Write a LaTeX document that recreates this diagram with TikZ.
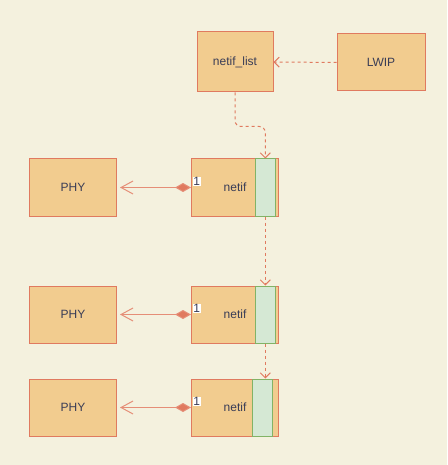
\documentclass[tikz,border=0pt]{standalone}
\usepackage{fontspec}
\setmainfont{Liberation Sans}
\usetikzlibrary{positioning, arrows.meta}
\definecolor{paper}{HTML}{F4F1DE}
\definecolor{boxfill}{HTML}{F2CC8F}
\definecolor{boxline}{HTML}{E07A5F}
\definecolor{ink}{HTML}{393C56}
\definecolor{stripfill}{HTML}{D5E8D4}
\definecolor{stripline}{HTML}{82B366}
\tikzset{x=1pt, y=-1pt, % one unit is one pixel of the sketch
box/.style={ % Sets the properties for each block
draw=boxline, fill=boxfill, line width=1pt,
text=ink, font=\fontsize{12}{14}\selectfont,
minimum width=87pt, minimum height=57pt, inner sep=0pt},
strip/.style={ % green slot inside a netif block
draw=stripline, fill=stripfill, line width=1pt,
minimum width=20.4pt, minimum height=57pt, inner sep=0pt},
card/.style={ % multiplicity label
fill=white, text=ink, font=\fontsize{12}{13}\selectfont,
inner sep=0.8pt, anchor=north west},
link/.style={ % dashed pointer
draw=boxline, line width=1pt, dash pattern=on 3pt off 3pt,
-{Straight Barb[length=5pt,width=10pt]}},
owns/.style={ % composition with diamond end
draw=boxline!85, line width=1pt,
{Diamond[length=16pt,width=9pt,fill=boxline]}-{Straight Barb[length=12pt,width=13pt]},
shorten >=3pt}}

\begin{document}
\begin{tikzpicture}

    \useasboundingbox[fill=paper] (0,0) rectangle (447,465);

    \node[box, minimum width=76pt, minimum height=60pt] (list) at (235,62) {netif\_list};
    \node[box, minimum width=88pt] (lwip) at (381,62.5) {LWIP};

    \node[box] (n1) at (235,187.5) {netif};
    \node[box, below=69pt of n1] (n2) {netif};
    \node[box, below=35pt of n2] (n3) {netif};

    \node[box, left=74pt of n1] (phy1) {PHY};
    \node[box, left=74pt of n2] (phy2) {PHY};
    \node[box, left=74pt of n3] (phy3) {PHY};

    \node[strip, anchor=north east] (s1) at ([xshift=-3pt]n1.north east) {};
    \node[strip, anchor=north east] (s2) at ([xshift=-3pt]n2.north east) {};
    \node[strip, anchor=north east] (s3) at ([xshift=-5.7pt]n3.north east) {};

    \node[card] (c1) at ([xshift=1.4pt,yshift=-17.8pt]n1.north west) {1};
    \node[card] (c2) at ([xshift=1.4pt,yshift=-17.8pt]n2.north west) {1};
    \node[card] (c3) at ([xshift=1.4pt,yshift=-17.8pt]n3.north west) {1};

    \draw[link] (lwip) -- (list);
    \draw[link, rounded corners=6pt] (list.south) -- ++(0,34) -| (s1.north);
    \draw[link] (s1.south) -- (s2.north);
    \draw[link] (s2.south) -- (s2.south |- n3.north);

    \draw[owns] (n1.west) -- (phy1.east);
    \draw[owns] (n2.west) -- (phy2.east);
    \draw[owns] (n3.west) -- (phy3.east);

\end{tikzpicture}
\end{document}
